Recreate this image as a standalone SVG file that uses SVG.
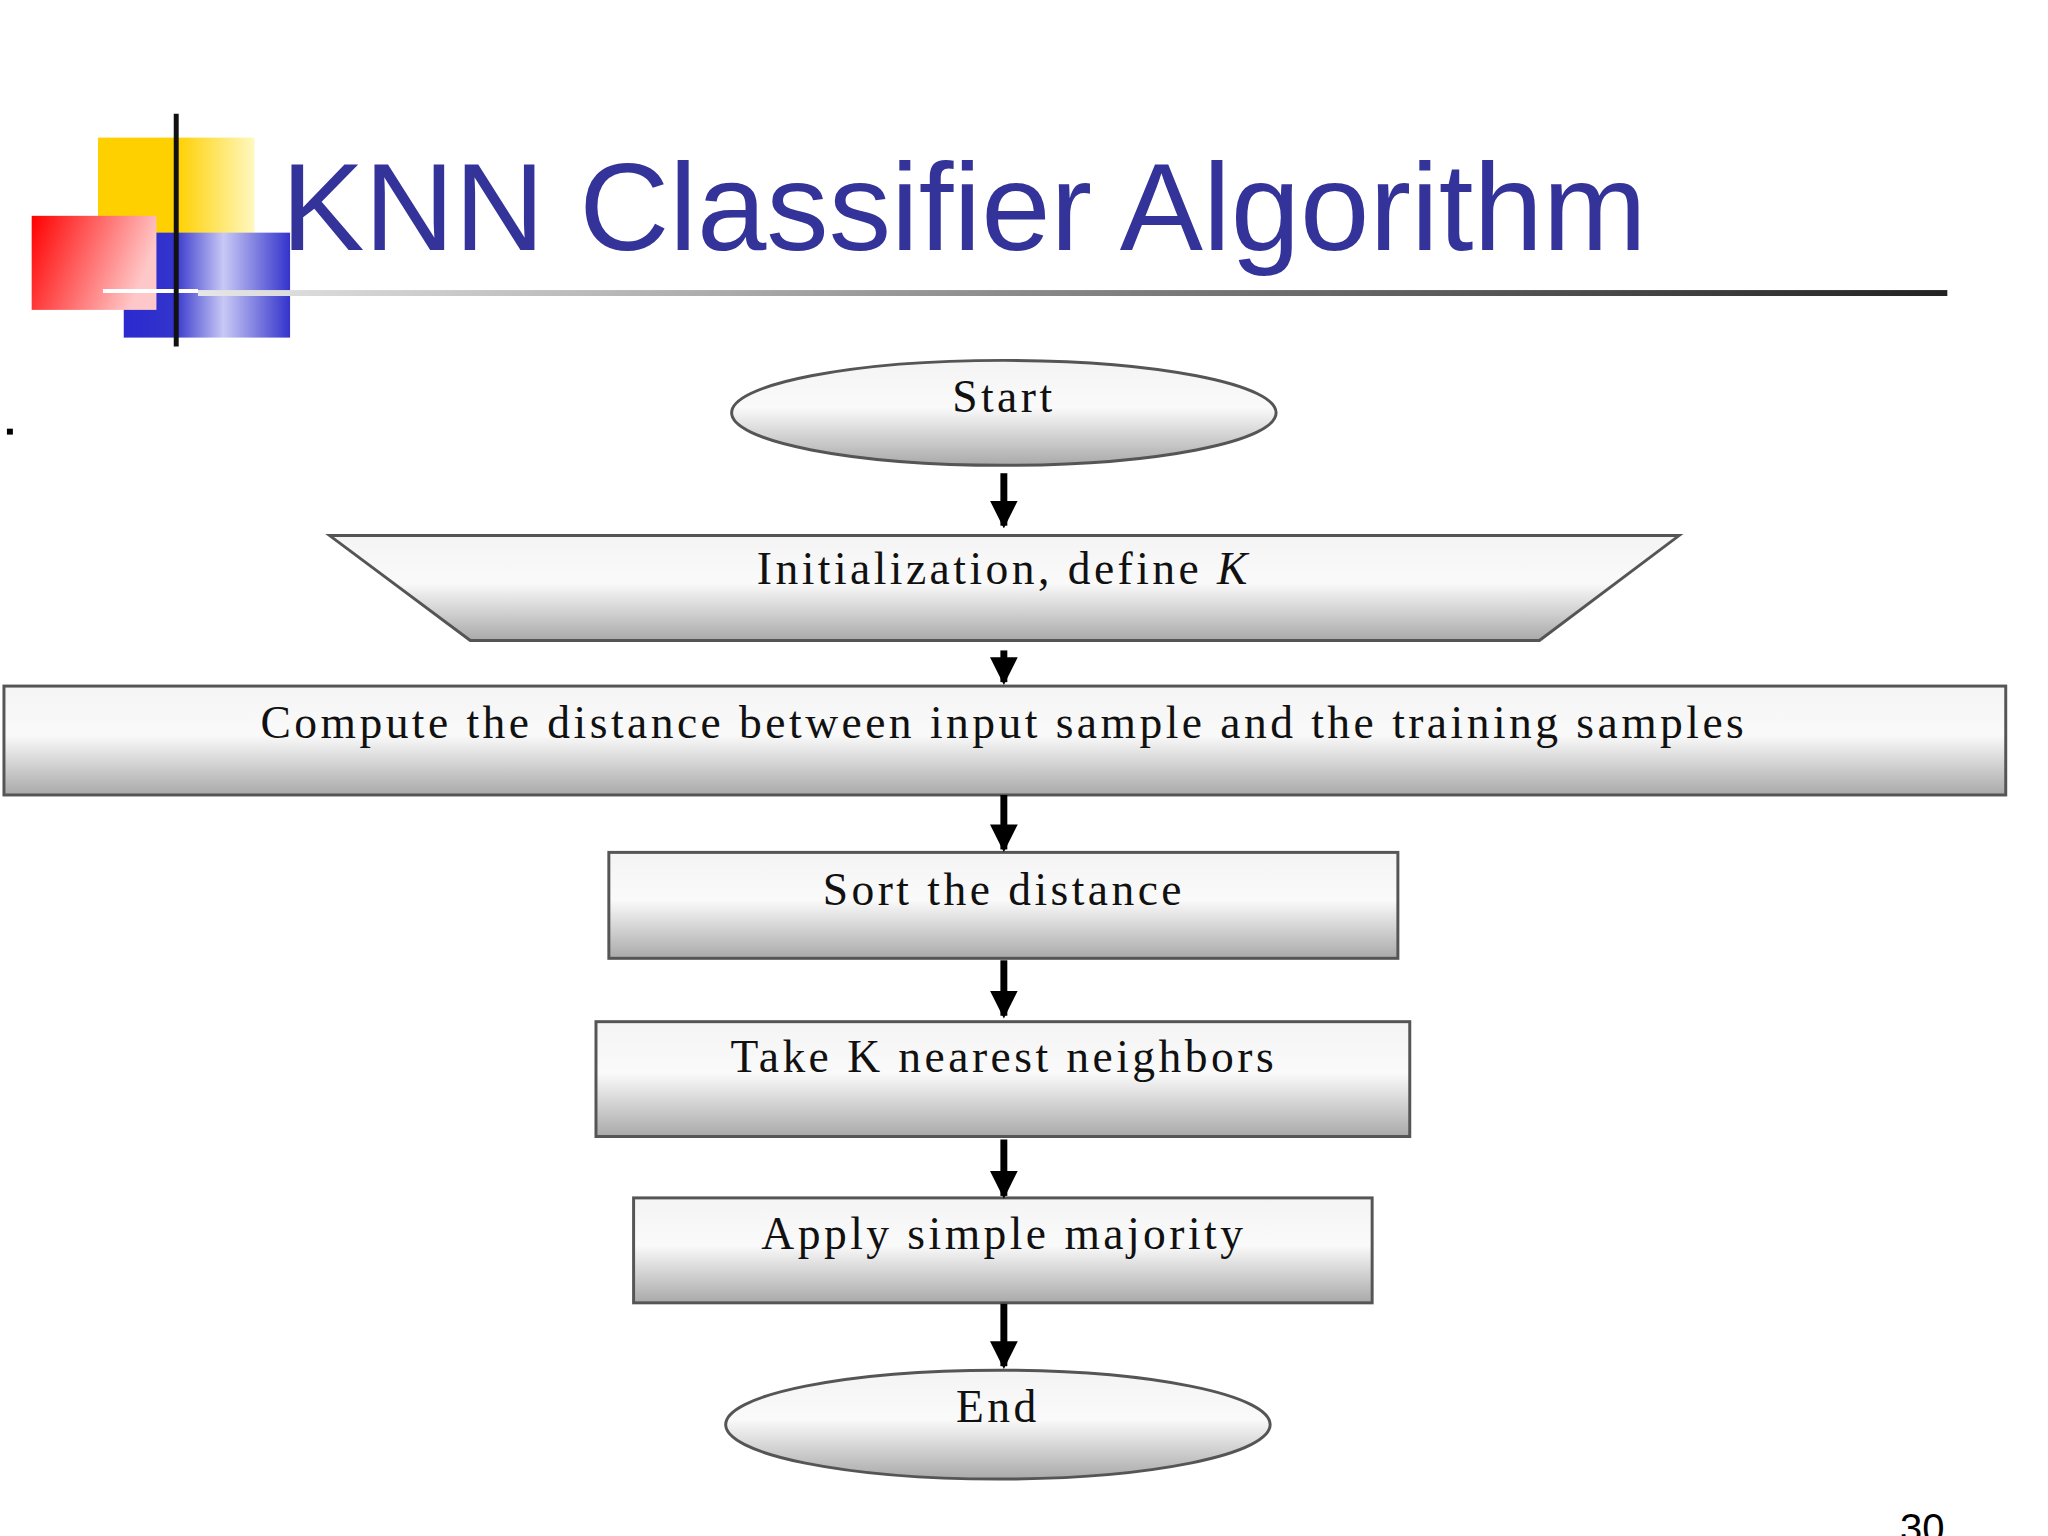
<svg xmlns="http://www.w3.org/2000/svg" width="2048" height="1536" viewBox="0 0 2048 1536">
<defs>
<linearGradient id="g" x1="0" y1="0" x2="0" y2="1"><stop offset="0" stop-color="#f4f4f4"/><stop offset="0.45" stop-color="#fafafa"/><stop offset="1" stop-color="#a9a9a9"/></linearGradient>
<linearGradient id="ln" x1="0" y1="0" x2="1" y2="0"><stop offset="0" stop-color="#e6e6e6"/><stop offset="1" stop-color="#222"/></linearGradient>
<linearGradient id="yel" x1="0" y1="0" x2="1" y2="0"><stop offset="0" stop-color="#ffd000"/><stop offset="0.5" stop-color="#ffd000"/><stop offset="1" stop-color="#fff8c0"/></linearGradient>
<linearGradient id="red" x1="0" y1="0" x2="1" y2="0.3"><stop offset="0" stop-color="#ff0000"/><stop offset="1" stop-color="#ffc8c8"/></linearGradient>
<linearGradient id="blu" x1="0" y1="0" x2="1" y2="0"><stop offset="0" stop-color="#2a2ad0"/><stop offset="0.3" stop-color="#3333cc"/><stop offset="0.6" stop-color="#c8c8f5"/><stop offset="1" stop-color="#3333cc"/></linearGradient>
<marker id="ah" viewBox="0 0 10 10" refX="9" refY="5" markerWidth="4" markerHeight="4" orient="auto"><path d="M0,0 L10,5 L0,10 z" fill="#000"/></marker>
</defs>
<style>
.n{fill:url(#g);stroke:#555;stroke-width:3}
.t{font-family:"Liberation Serif",serif;font-size:46px;letter-spacing:3.5px;fill:#111;text-anchor:middle}
.c{stroke:#000;stroke-width:7;fill:none;marker-end:url(#ah)}
</style>
<rect width="2048" height="1536" fill="#fff"/>
<g transform="scale(0.99)">
<g id="logo">
<rect x="99" y="139" width="158" height="99" fill="url(#yel)"/>
<rect x="125" y="235" width="168" height="106" fill="url(#blu)"/>
<rect x="32" y="218" width="126" height="95" fill="url(#red)"/>
<line x1="104" y1="294" x2="200" y2="294" stroke="#fff" stroke-width="4"/>
<line x1="178" y1="115" x2="178" y2="350" stroke="#111" stroke-width="5"/>
</g>
<text x="284" y="253" font-family="Liberation Sans,Arial,sans-serif" font-size="126" fill="#333399">KNN Classifier Algorithm</text>
<rect x="200" y="293" width="1767" height="6" fill="url(#ln)"/>
<rect x="7" y="433" width="6" height="6" fill="#000"/>
<g id="start"><ellipse class="n" cx="1014" cy="417" rx="275" ry="53"/><text class="t" x="1014" y="416">Start</text></g>
<g id="init"><polygon class="n" points="333,541 1696,541 1555,647 475,647"/><text class="t" x="1014" y="590">Initialization, define <tspan font-style="italic">K</tspan></text></g>
<g id="compute"><rect class="n" x="4" y="693" width="2022" height="110"/><text class="t" x="1014" y="745">Compute the distance between input sample and the training samples</text></g>
<g id="sort"><rect class="n" x="615" y="861" width="797" height="107"/><text class="t" x="1014" y="914">Sort the distance</text></g>
<g id="take"><rect class="n" x="602" y="1032" width="822" height="116"/><text class="t" x="1014" y="1083">Take K nearest neighbors</text></g>
<g id="apply"><rect class="n" x="640" y="1210" width="746" height="106"/><text class="t" x="1014" y="1262">Apply simple majority</text></g>
<g id="end"><ellipse class="n" cx="1008" cy="1439" rx="275" ry="55"/><text class="t" x="1008" y="1436">End</text></g>
<g id="connectors">
<line class="c" x1="1014" y1="478" x2="1014" y2="531"/>
<line class="c" x1="1014" y1="657" x2="1014" y2="689"/>
<line class="c" x1="1014" y1="803" x2="1014" y2="858"/>
<line class="c" x1="1014" y1="970" x2="1014" y2="1026"/>
<line class="c" x1="1014" y1="1151" x2="1014" y2="1208"/>
<line class="c" x1="1014" y1="1317" x2="1014" y2="1380"/>
</g>
</g>
<text x="1900" y="1542" font-family="Liberation Sans,sans-serif" font-size="40" fill="#000">30</text>
</svg>
